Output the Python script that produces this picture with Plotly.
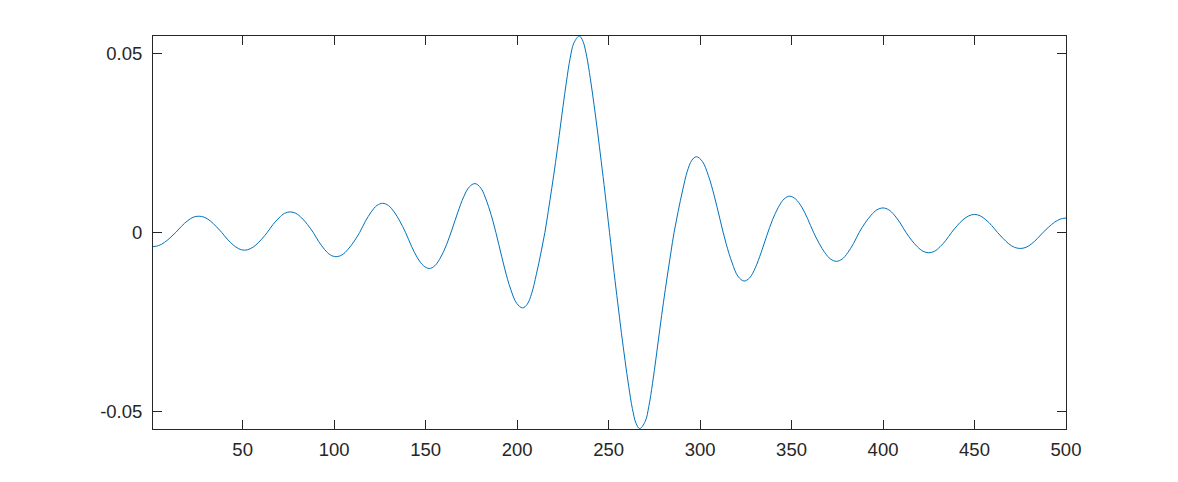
import plotly.graph_objects as go

# samples: sample index n and amplitude h
n = [1, 4.1, 7.3, 10.4, 13.5, 16.6, 19.8, 22.9, 26,
     29.1, 32.3, 35.4, 38.5, 41.6, 44.8, 47.9, 51,
     54.1, 57.3, 60.4, 63.5, 66.6, 69.8, 72.9, 76,
     79.1, 82.3, 85.4, 88.5, 91.6, 94.8, 97.9, 101,
     104.3, 107.5, 110.8, 114, 117.1, 120.3, 123.4, 126.5,
     129.6, 132.8, 135.9, 139, 142.3, 145.5, 148.8, 152,
     155.1, 158.3, 161.4, 164.5, 167.6, 170.8, 173.9, 177,
     180.25, 183.5, 186.75, 190, 193.25, 196.5, 199.75, 203,
     205.5, 208, 210.5, 213, 215.2, 217, 219, 221, 223, 225, 227, 229, 231, 234,
     236, 238, 240, 242, 244, 246, 248, 250.5,
     253, 255, 257, 259, 261, 263, 265, 267,
     270, 272, 274, 276, 278, 280, 282, 284, 285.8, 288, 290.5, 293, 295.5, 298,
     301.25, 304.5, 307.75, 311, 314.25, 317.5, 320.75, 324,
     327.1, 330.2, 333.4, 336.5, 339.6, 342.7, 345.9, 349,
     352.2, 355.5, 358.7, 362, 365.1, 368.2, 371.4, 374.5,
     377.6, 380.7, 383.9, 387, 390.2, 393.5, 396.7, 400,
     403.1, 406.2, 409.4, 412.5, 415.6, 418.7, 421.9, 425,
     428.1, 431.2, 434.4, 437.5, 440.6, 443.7, 446.9, 450,
     453.1, 456.2, 459.4, 462.5, 465.6, 468.7, 471.9, 475,
     478.1, 481.2, 484.4, 487.5, 490.6, 493.7, 496.9, 500]
h = [-0.0040, -0.0037, -0.0028, -0.0015, 0, 0.0017, 0.0032, 0.0042, 0.0045,
     0.0042, 0.0032, 0.0017, 0, -0.0019, -0.0035, -0.0046, -0.0050,
     -0.0046, -0.0035, -0.0019, 0, 0.0022, 0.0040, 0.0053, 0.0057,
     0.0053, 0.0040, 0.0022, 0, -0.0026, -0.0048, -0.0063, -0.0068,
     -0.0063, -0.0048, -0.0026, 0, 0.0031, 0.0057, 0.0075, 0.0081,
     0.0075, 0.0057, 0.0031, 0, -0.0039, -0.0071, -0.0093, -0.0101,
     -0.0093, -0.0069, -0.0035, 0.0009, 0.0056, 0.0099, 0.0127, 0.0136,
     0.0123, 0.0085, 0.0032, -0.0034, -0.0102, -0.0159, -0.0198, -0.0211,
     -0.0201, -0.0170, -0.0118, -0.0058, 0, 0.0058, 0.0125, 0.0195, 0.0270,
     0.0348, 0.0422, 0.0486, 0.0528, 0.0548,
     0.0533, 0.0492, 0.0430, 0.0358, 0.0280, 0.0197, 0.0112, 0,
     -0.0112, -0.0197, -0.0280, -0.0358, -0.0430, -0.0492, -0.0533, -0.0548,
     -0.0528, -0.0486, -0.0422, -0.0348, -0.0270, -0.0195, -0.0125, -0.0058,
     0, 0.0058, 0.0118, 0.0170, 0.0201, 0.0211,
     0.0198, 0.0159, 0.0102, 0.0034, -0.0032, -0.0085, -0.0123, -0.0136,
     -0.0127, -0.0099, -0.0056, -0.0009, 0.0035, 0.0069, 0.0093, 0.0101,
     0.0093, 0.0071, 0.0039, 0, -0.0031, -0.0057, -0.0075, -0.0081,
     -0.0075, -0.0057, -0.0031, 0, 0.0026, 0.0048, 0.0063, 0.0068,
     0.0063, 0.0048, 0.0026, 0, -0.0022, -0.0040, -0.0053, -0.0057,
     -0.0053, -0.0040, -0.0022, 0, 0.0019, 0.0035, 0.0046, 0.0050,
     0.0046, 0.0035, 0.0019, 0, -0.0017, -0.0032, -0.0042, -0.0045,
     -0.0042, -0.0032, -0.0017, 0, 0.0015, 0.0028, 0.0037, 0.0040]

xticks = [50, 100, 150, 200, 250, 300, 350, 400, 450, 500]
yticks = [-0.05, 0, 0.05]
ylabels = ["-0.05", "0", "0.05"]

assert len(n) == len(h), (len(n), len(h))

ax = "#262626"

fig = go.Figure()
fig.add_trace(
    go.Scatter(x=n, y=h, mode="lines", line=dict(color="#0072BD", width=1, shape="spline"))
)

# the page body has an 8px margin, so the figure is shrunk by that much
fig.update_layout(
    width=1170,
    height=474,
    margin=dict(l=145, r=112, t=28, b=53),
    paper_bgcolor="white",
    plot_bgcolor="white",
    showlegend=False,
    font=dict(family="Liberation Sans, Arial", size=18.5, color=ax),
)
fig.update_xaxes(
    range=[1, 500], tickvals=xticks, showgrid=False, zeroline=False,
    showline=True, linecolor=ax, linewidth=1, mirror="ticks",
    ticks="inside", ticklen=9, tickcolor=ax, tickwidth=1, ticklabelstandoff=4,
)
fig.update_yaxes(
    range=[-0.0549, 0.0548], tickvals=yticks, ticktext=ylabels, showgrid=False,
    zeroline=False, showline=True, linecolor=ax, linewidth=1, mirror="ticks",
    ticks="inside", ticklen=9, tickcolor=ax, tickwidth=1, ticklabelstandoff=6,
)

fig.write_html("out.html")
